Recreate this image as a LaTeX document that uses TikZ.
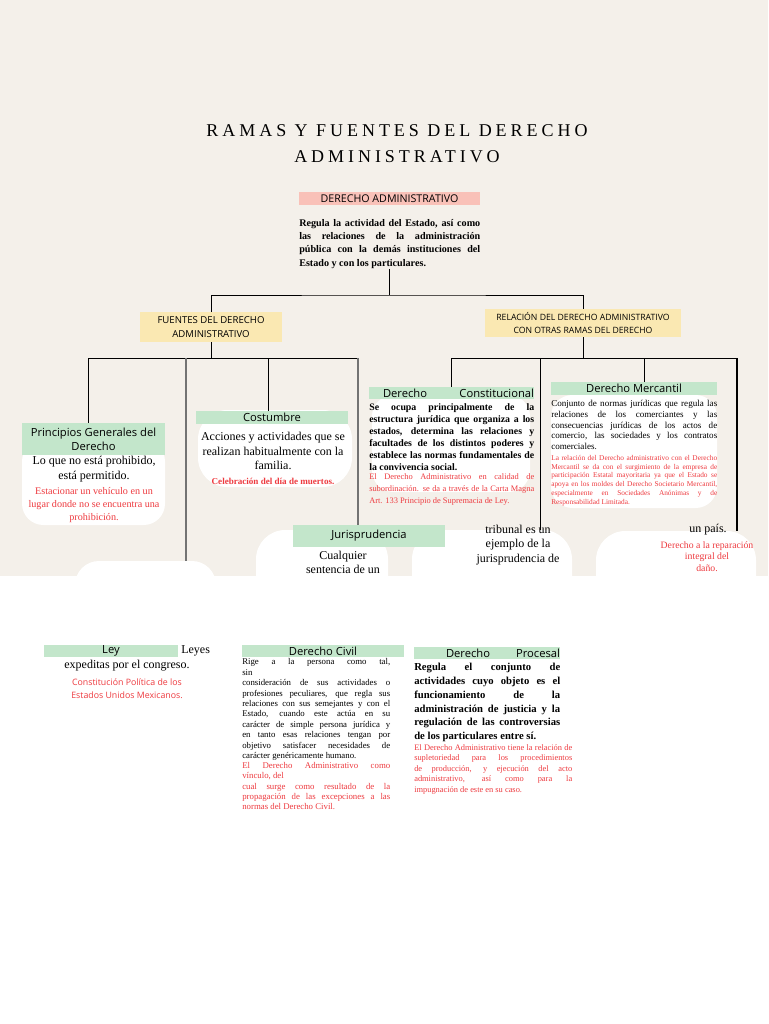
\documentclass[tikz,border=0pt]{standalone}
\usepackage{fontspec}
\setmainfont{Liberation Serif}
\newfontfamily\hdfont{Open Sans}
\newfontfamily\ttlfont[LetterSpace=22]{Liberation Serif}
\usetikzlibrary{positioning}
\definecolor{beige}{HTML}{F4F0EA}
\definecolor{rosa}{HTML}{F9C1B8}
\definecolor{crema}{HTML}{FAE8B2}
\definecolor{verde}{HTML}{C3E6CB}
\definecolor{rojo}{HTML}{EE3A3F}

\begin{document}
\begin{tikzpicture}[x=0.75pt,y=-0.75pt,
  hdr/.style={fill=verde,inner sep=0pt,align=center,font=\hdfont\fontsize{8.4pt}{10.5pt}\selectfont},
  caja/.style={inner sep=0pt,align=center,font=\hdfont\fontsize{6.6pt}{9pt}\selectfont},
  blob/.style={fill=white,rounded corners=16pt,inner sep=0pt},
  body/.style={inner sep=0pt,align=center,font=\fontsize{9pt}{11pt}\selectfont},
  note/.style={inner sep=0pt,align=center,text=rojo,font=\fontsize{7pt}{9.75pt}\selectfont},
  conn/.style={line width=0.75pt},
  gconn/.style={line width=1.1pt,draw=gray!90!black}]
\useasboundingbox (0,0) rectangle (768,1024);
\fill[beige] (0,0) rectangle (768,576);
\fill[white] (0,576) rectangle (768,1024);

% titulo
\node[font=\ttlfont\fontsize{13.5pt}{19.5pt}\selectfont,align=center] (titulo) at (397,144)
  {RAMAS Y FUENTES DEL DERECHO\\ADMINISTRATIVO};

% raiz
\node[caja,fill=rosa,minimum width=135.75pt,minimum height=9.75pt,font=\hdfont\fontsize{8pt}{9pt}\selectfont] (da) at (389.5,198.5) {DERECHO ADMINISTRATIVO};
\node[inner sep=0pt,anchor=north west,text width=135.75pt,align=justify,font=\bfseries\fontsize{7.6pt}{10pt}\selectfont] (desc) at (299,219)
  {Regula la actividad del Estado, así como\linebreak las relaciones de la administración\linebreak pública con la demás instituciones del\linebreak Estado y con los particulares.};

\node[caja,fill=crema,minimum width=106.5pt,minimum height=22.5pt,font=\hdfont\fontsize{7.2pt}{10pt}\selectfont] (fuentes) at (211,327) {FUENTES DEL DERECHO\\ADMINISTRATIVO};
\node[caja,fill=crema,minimum width=147pt,minimum height=21pt,font=\hdfont\fontsize{6.5pt}{9.5pt}\selectfont] (relacion) at (583,323) {RELACIÓN DEL DERECHO ADMINISTRATIVO\\CON OTRAS RAMAS DEL DERECHO};

% fondos blancos
\node[blob,minimum width=107.25pt,minimum height=63.75pt] (bprin) at (93.5,482.5) {};
\node[blob,minimum width=115.5pt,minimum height=57.75pt,rounded corners=22pt] (bcost) at (275,448.5) {};
\node[blob,minimum width=99pt,minimum height=67.5pt,rounded corners=22pt] (bjur) at (322,575) {};
\node[blob,minimum width=120pt,minimum height=67.5pt,rounded corners=22pt] (btrib) at (492,575) {};
\node[blob,minimum width=118.5pt,minimum height=72.75pt] (bconst) at (451,443.5) {};
\node[blob,minimum width=124.5pt,minimum height=84.75pt] (bmerc) at (634,451.5) {};
\node[blob,minimum width=120pt,minimum height=67.5pt,rounded corners=22pt] (bpais) at (676,576) {};
\node[blob,minimum width=105.75pt,minimum height=44.25pt,rounded corners=18pt] (bley) at (145.5,590.5) {};

% fuentes
\node[hdr,minimum width=107.25pt,minimum height=24pt] (principios) at (93.5,439) {Principios Generales del\\Derecho};
\node[body] (prohibido) at (94,469) {Lo que no está prohibido,\\está permitido.};
\node[note,font=\fontsize{7.6pt}{9.75pt}\selectfont] (estacionar) at (94,505) {Estacionar un vehículo en un\\lugar donde no se encuentra una\\prohibición.};

\node[hdr,minimum width=114pt,minimum height=9.75pt] (costumbre) at (272,417.5) {Costumbre};
\node[body] (acciones) at (273,451) {Acciones y actividades que se\\realizan habitualmente con la\\familia.};
\node[note,font=\bfseries\fontsize{6.8pt}{9pt}\selectfont] (muertos) at (273,481) {Celebración del día de muertos.};

\node[hdr,minimum width=114pt,minimum height=16.5pt] (jur) at (369,536) {Jurisprudencia};
\node[body] (cualquier) at (343,562.5) {Cualquier\\sentencia de un};
\node[body] (tribunal) at (518,545) {tribunal es un\\ejemplo de la\\jurisprudencia de};

% relaciones
\node[hdr,minimum height=9pt,text width=123.75pt,align=left] (const) at (451.5,393) {\hskip10.5pt Derecho\hfill Constitucional};
\node[inner sep=0pt,anchor=north west,text width=123.75pt,align=justify,font=\bfseries\fontsize{7.4pt}{9pt}\selectfont] (consttext) at (369,403)
  {Se ocupa principalmente de la\linebreak estructura jurídica que organiza a los\linebreak estados, determina las relaciones y\linebreak facultades de los distintos poderes y\linebreak establece las normas fundamentales de\linebreak la convivencia social.};
\node[inner sep=0pt,below=2pt of consttext,text width=123.75pt,align=justify,text=rojo,font=\fontsize{6.3pt}{9pt}\selectfont] (constnota)
  {El Derecho Administrativo en calidad de\linebreak subordinación. se da a través de la Carta Magna\linebreak Art. 133 Principio de Supremacia de Ley.};

\node[hdr,minimum width=124.5pt,minimum height=9.75pt] (merc) at (634,388.5) {Derecho Mercantil};
\node[inner sep=0pt,anchor=north west,text width=124.5pt,align=justify,font=\fontsize{6.8pt}{8.1pt}\selectfont] (merctext) at (551,400)
  {Conjunto de normas jurídicas que regula las\linebreak relaciones de los comerciantes y las\linebreak consecuencias jurídicas de los actos de\linebreak comercio, las sociedades y los contratos\linebreak comerciales.};
\node[inner sep=0pt,below=3.5pt of merctext,text width=124.5pt,align=justify,text=rojo,font=\fontsize{5.5pt}{6.6pt}\selectfont] (mercnota)
  {La relación del Derecho administrativo con el Derecho\linebreak Mercantil se da con el surgimiento de la empresa de\linebreak participación Estatal mayoritaria ya que el Estado se\linebreak apoya en los moldes del Derecho Societario Mercantil,\linebreak especialmente en Sociedades Anónimas y de\linebreak Responsabilidad Limitada.};

\node[body] (pais) at (708,530) {un país.};
\node[note,font=\fontsize{7.3pt}{8.6pt}\selectfont] (reparacion) at (707,556.5) {Derecho a la reparación\\integral del\\daño.};

% parte inferior
\node[hdr,minimum width=100.5pt,minimum height=9pt] (ley) at (111,651) {Ley};
\node[body,anchor=west] (leyes) at (181,651) {Leyes};
\node[body] (expeditas) at (127,666) {expeditas por el congreso.};
\node[note,font=\hdfont\fontsize{6.6pt}{9.75pt}\selectfont] (constitucion) at (127,688.5) {Constitución Política de los\\Estados Unidos Mexicanos.};

\node[hdr,minimum width=121.5pt,minimum height=9pt] (civil) at (323,651) {Derecho Civil};
\node[inner sep=0pt,anchor=north west,text width=111pt,align=justify,font=\fontsize{6.6pt}{7.8pt}\selectfont] (civiltext) at (242,658.5)
  {Rige a la persona como tal,\linebreak sin\par consideración de sus actividades o\linebreak profesiones peculiares, que regla sus\linebreak relaciones con sus semejantes y con el\linebreak Estado, cuando este actúa en su\linebreak carácter de simple persona jurídica y\linebreak en tanto esas relaciones tengan por\linebreak objetivo satisfacer necesidades de\linebreak carácter genéricamente humano.};
\node[inner sep=0pt,below=1pt of civiltext,text width=111pt,align=justify,text=rojo,font=\fontsize{6.6pt}{7.8pt}\selectfont] (civilnota)
  {El Derecho Administrativo como\linebreak vínculo, del\par cual surge como resultado de la\linebreak propagación de las excepciones a las\linebreak normas del Derecho Civil.};

\node[hdr,minimum height=9pt,text width=109.5pt,align=left] (procesal) at (487,653) {\hskip24pt Derecho\hfill Procesal};
\node[inner sep=0pt,anchor=north west,text width=109.5pt,align=justify,font=\bfseries\fontsize{8pt}{10.35pt}\selectfont] (procesaltext) at (414,663)
  {Regula el conjunto de\linebreak actividades cuyo objeto es el\linebreak funcionamiento de la\linebreak administración de justicia y la\linebreak regulación de las controversias\linebreak de los particulares entre sí.};
\node[inner sep=0pt,anchor=north west,text width=118.5pt,align=justify,text=rojo,font=\fontsize{6.3pt}{7.9pt}\selectfont] (procesalnota) at (414,744)
  {El Derecho Administrativo tiene la relación de\linebreak supletoriedad para los procedimientos\linebreak de producción, y ejecución del acto\linebreak administrativo, así como para la\linebreak impugnación de este en su caso.};

% conectores
\coordinate (b1) at (390,295);
\coordinate (b2l) at (88,358);
\coordinate (b2r) at (358,358);
\coordinate (b3l) at (451,358);
\coordinate (b3r) at (737,358);
\draw[conn] (desc.south) -- (desc.south |- b1);
\draw[conn] (fuentes.north) |- (b1) -| (relacion.north);
\draw[conn] (fuentes.south) -- (fuentes.south |- b2l);
\draw[conn] (b2l) -- (b2r);
\draw[conn] (b2l) -- (b2l |- principios.north);
\draw[conn] (costumbre.north -| 268,0) -- (b2l -| 268,0);
\draw[gconn] (b2l -| 186,0) -- (bley.north -| 186,0);
\draw[gconn] (b2r) -- (b2r |- jur.north);
\draw[conn] (relacion.south) -- (relacion.south |- b3l);
\draw[conn] (b3l) -- (b3r);
\draw[conn] (b3l) -- (b3l |- const.north);
\draw[conn] (b3l -| 540,0) -- (btrib.north -| 540,0);
\draw[conn] (b3l -| 644,0) -- (merc.north -| 644,0);
\draw[line width=1.6pt] (b3r) -- (b3r |- bpais.north);
\end{tikzpicture}
\end{document}
